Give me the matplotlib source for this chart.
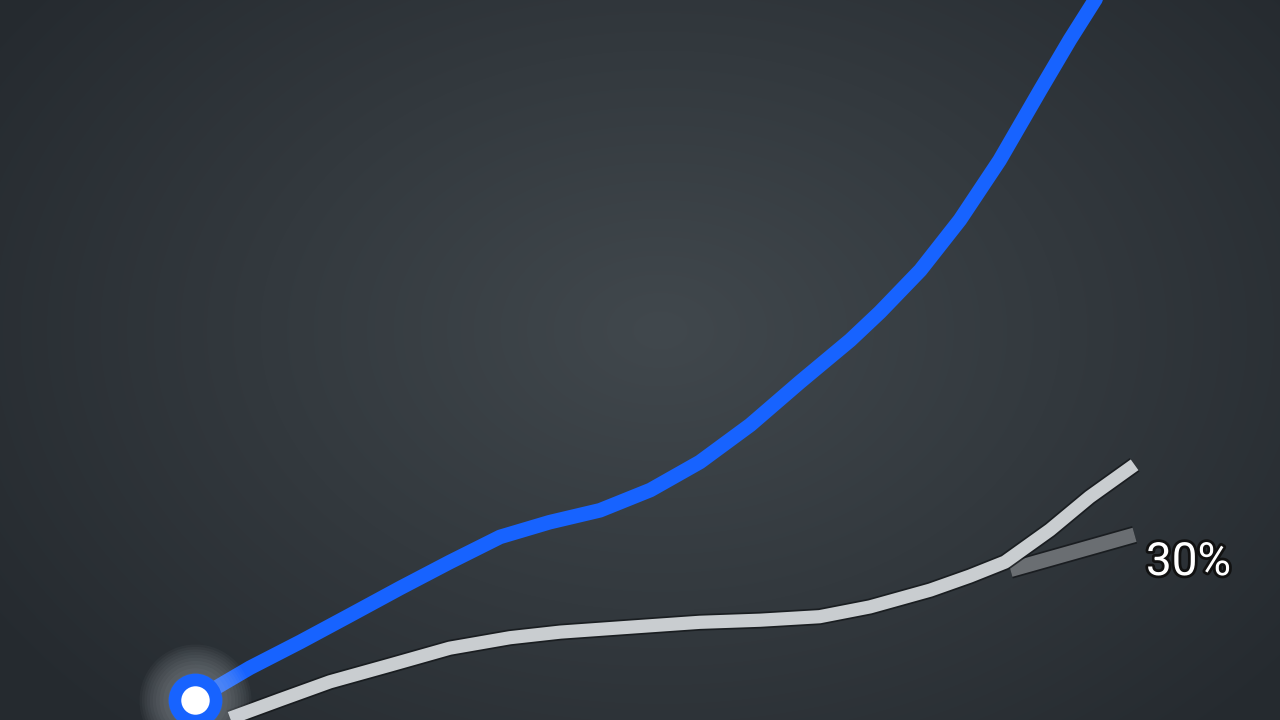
import numpy as np
import matplotlib.pyplot as plt
import matplotlib.patheffects as pe

# growth curves (x = period, y = percent)
blue_x = [0, 0.61, 1.17, 1.72, 2.28, 2.83, 3.39, 3.94, 4.5, 5.06, 5.61,
          6.17, 6.72, 7.28, 7.61, 8.06, 8.5, 8.94, 9.39, 9.72, 10.0, 10.3]
blue_y = [0, 4.6, 8.3, 12.1, 16.0, 19.7, 23.3, 25.4, 27.1, 30.0, 34.0,
          39.3, 45.4, 51.4, 55.4, 61.4, 68.6, 77.1, 87.1, 94.3, 100, 106]

grey_x = [0.39, 0.94, 1.5, 2.17, 2.83, 3.5, 4.06, 4.83, 5.61, 6.28, 6.94,
          7.5, 8.17, 8.61, 9.0, 9.5, 9.94, 10.44]
grey_y = [-2.6, 0, 2.6, 5.0, 7.4, 8.9, 9.7, 10.4, 11.1, 11.4, 11.9,
          13.3, 15.7, 17.7, 19.7, 24.3, 29.0, 33.6]

dark_x = [9.06, 10.44]
dark_y = [18.6, 23.6]

label = "30%"

fig = plt.figure(figsize=(12.8, 7.2), dpi=100)

# background radial gradient
bg = fig.add_axes([0, 0, 1, 1])
yy, xx = np.mgrid[0:720, 0:1280]
r = np.sqrt(((xx - 660) / 800.0) ** 2 + ((yy - 330) / 560.0) ** 2)
r = np.clip(r, 0, 1)
inner = np.array([0x41, 0x48, 0x4d]) / 255
outer = np.array([0x25, 0x2a, 0x2f]) / 255
img = inner[None, None, :] * (1 - r[..., None]) + outer[None, None, :] * r[..., None]
bg.imshow(img, aspect="auto", extent=[0, 1, 0, 1])
bg.axis("off")

ax = fig.add_axes([0, 0, 1, 1])
ax.patch.set_alpha(0)
ax.set_xlim(-195 / 90, (1280 - 195) / 90)
ax.set_ylim(-20 / 7, 100)
ax.axis("off")

ax.plot(dark_x, dark_y, color="#6a6e72", lw=10.5, solid_capstyle="butt",
        path_effects=[pe.Stroke(linewidth=13, foreground="#15181b", alpha=0.8),
                      pe.Normal()], zorder=2)
ax.plot(grey_x, grey_y, color="#c9cdd0", lw=9.5, solid_capstyle="butt",
        solid_joinstyle="round",
        path_effects=[pe.Stroke(linewidth=12, foreground="#15181b", alpha=0.8),
                      pe.Normal()], zorder=3)
ax.plot(blue_x, blue_y, color="#1763ff", lw=10.5, solid_capstyle="round",
        solid_joinstyle="round", zorder=4)

# glowing start marker
for s in np.linspace(1600, 6500, 10):
    ax.scatter([blue_x[0]], [blue_y[0]], s=s, color="#dfe6ee", alpha=0.035,
               lw=0, zorder=5)
ax.scatter([blue_x[0]], [blue_y[0]], s=1500, color="#1763ff", lw=0, zorder=6)
ax.scatter([blue_x[0]], [blue_y[0]], s=420, color="white", lw=0, zorder=7)

ax.text(grey_x[-1] + 0.6, dark_y[-1] - 3.9, label, fontsize=33,
        family=["Roboto", "DejaVu Sans"], color="white",
        ha="center", va="center", zorder=8,
        path_effects=[pe.Stroke(linewidth=4, foreground="#111"), pe.Normal()])

fig.savefig("out.png", dpi=100)
